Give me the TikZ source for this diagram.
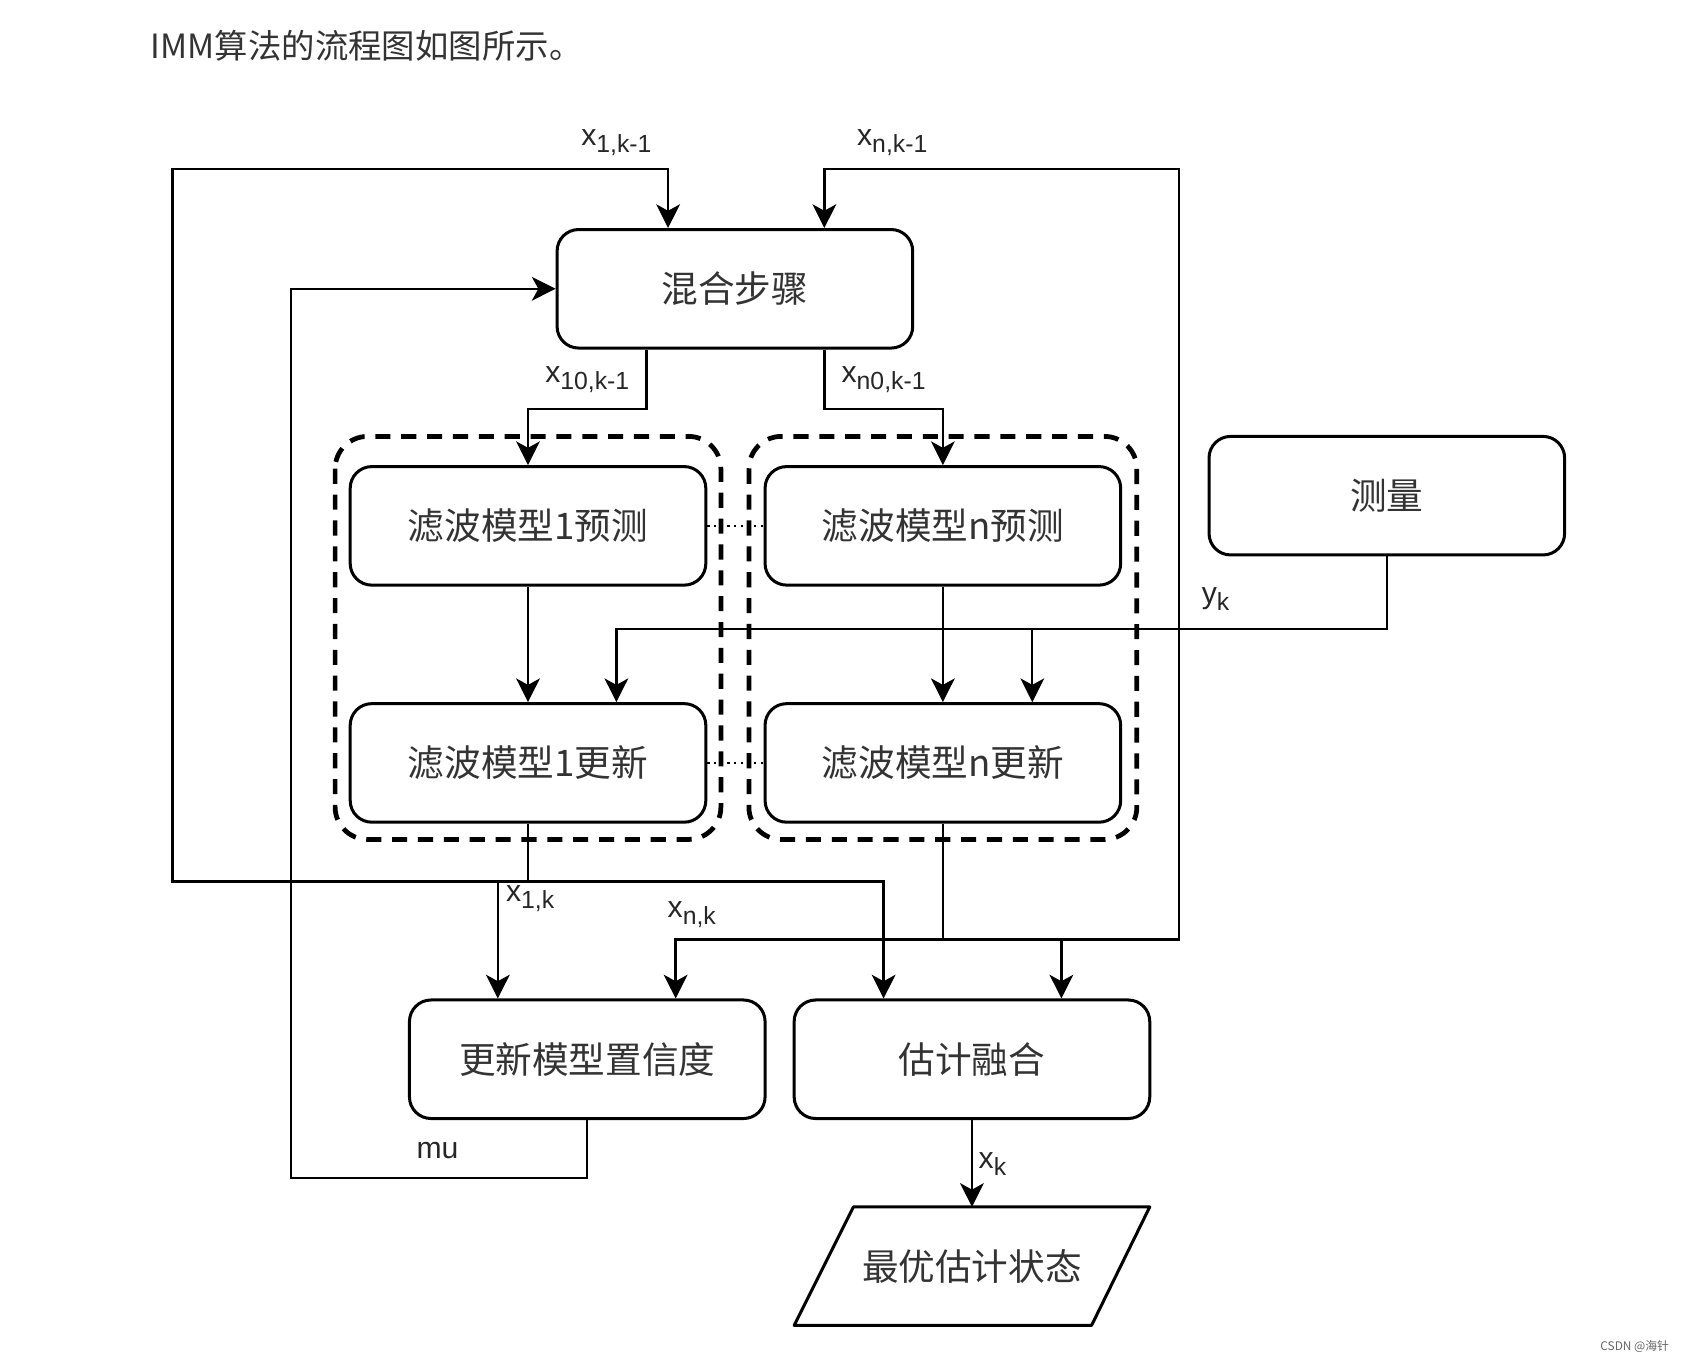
\documentclass[tikz,border=0pt]{standalone}
\usepackage{fontspec}
\setmainfont{Liberation Sans}
\newfontfamily\cjk{Noto Sans CJK SC}
\usetikzlibrary{arrows.meta}
\newcommand{\lab}[2]{x\raisebox{-0.45ex}{\fontsize{11.5pt}{12pt}\selectfont #2}}
\begin{document}
\begin{tikzpicture}[x=0.5pt,y=-0.5pt,
  box/.style={draw,line width=1.4pt,rounded corners=10pt,minimum width=165pt,minimum height=55pt,font=\cjk\fontsize{17pt}{19pt}\selectfont,text=black!80},
  con/.style={line width=1.1pt},
  arr/.style={con,-{Stealth[length=11pt,width=11pt,inset=3pt]}},
  grp/.style={line width=2.2pt,dash pattern=on 7pt off 5pt,rounded corners=15pt},
  lb/.style={font=\fontsize{14pt}{16pt}\selectfont,text=black!85,inner sep=0pt}]
\useasboundingbox (0,0) rectangle (1560,1258);
\node[anchor=west,font=\cjk\fontsize{15.5pt}{17pt}\selectfont,text=black!80] (title) at (133,42) {IMM算法的流程图如图所示。};
\draw[grp] (311,405) rectangle (669,779);
\draw[grp] (695,405) rectangle (1055,779);
\node[box] (mix) at (682,268) {混合步骤};
\node[box] (p1) at (490,488) {滤波模型1预测};
\node[box] (u1) at (490,708) {滤波模型1更新};
\node[box] (pn) at (875,488) {滤波模型n预测};
\node[box] (un) at (875,708) {滤波模型n更新};
\node[box] (meas) at (1287,460) {测量};
\node[box] (conf) at (545,983) {更新模型置信度};
\node[box] (fuse) at (902,983) {估计融合};
\draw[line width=1.4pt,line join=round] (737,1230) -- (792,1120) -- (1067,1120) -- (1013,1230) -- cycle;
\node[font=\cjk\fontsize{17pt}{19pt}\selectfont,text=black!80] (opt) at (902,1175) {最优估计状态};
\coordinate (optn) at (902,1120);
\draw[con,dotted] (p1.east) -- (pn.west);
\draw[con,dotted] (u1.east) -- (un.west);
\draw[arr] ([xshift=-41pt]mix.south) -- ++(0,55) -| (p1.north);
\draw[arr] ([xshift=41.5pt]mix.south) -- ++(0,55) -| (pn.north);
\draw[arr] (p1) -- (u1);
\draw[arr] (pn) -- (un);
\coordinate (yj) at (958,584);
\draw[arr] (meas.south) -- (meas.south |- yj) -| ([xshift=41pt]u1.north);
\draw[arr] (yj) -- ([xshift=41.5pt]un.north);
\coordinate (j1) at (490,818);
\coordinate (j1b) at (462,818);
\draw[arr] (u1.south) -- (j1) -- (160,818) -- (160,157) -| ([xshift=-31pt]mix.north);
\draw[arr] (j1) -| ([xshift=-41pt]fuse.north);
\draw[arr] (j1b) -- ([xshift=-41.5pt]conf.north);
\coordinate (jn) at (875,872);
\draw[arr] (un.south) -- (jn) -- (1094,872) -- (1094,157) -| ([xshift=41.5pt]mix.north);
\draw[arr] (jn) -| ([xshift=41pt]conf.north);
\draw[arr] (jn) -| ([xshift=41.5pt]fuse.north);
\draw[arr] (conf.south) -- ++(0,54) -| (270,268) -- (mix.west);
\draw[arr] (fuse.south) -- (optn);
\node[lb] (l1) at (572,132) {\lab x{1,k-1}};
\node[lb] (l2) at (828,132) {\lab x{n,k-1}};
\node[lb] (l3) at (545,352) {\lab x{10,k-1}};
\node[lb] (l4) at (820,352) {\lab x{n0,k-1}};
\node[lb] (l5) at (1128,556) {y\raisebox{-0.45ex}{\fontsize{11.5pt}{12pt}\selectfont k}};
\node[lb] (l6) at (492,834) {\lab x{1,k}};
\node[lb] (l7) at (642,849) {\lab x{n,k}};
\node[lb] (l8) at (406,1068) {mu};
\node[lb] (l9) at (921,1080) {\lab x{k}};
\node[font=\cjk\fontsize{5.5pt}{6pt}\selectfont,text=black!60,anchor=east] (wm) at (1556,1250) {CSDN @海针};
\end{tikzpicture}
\end{document}
